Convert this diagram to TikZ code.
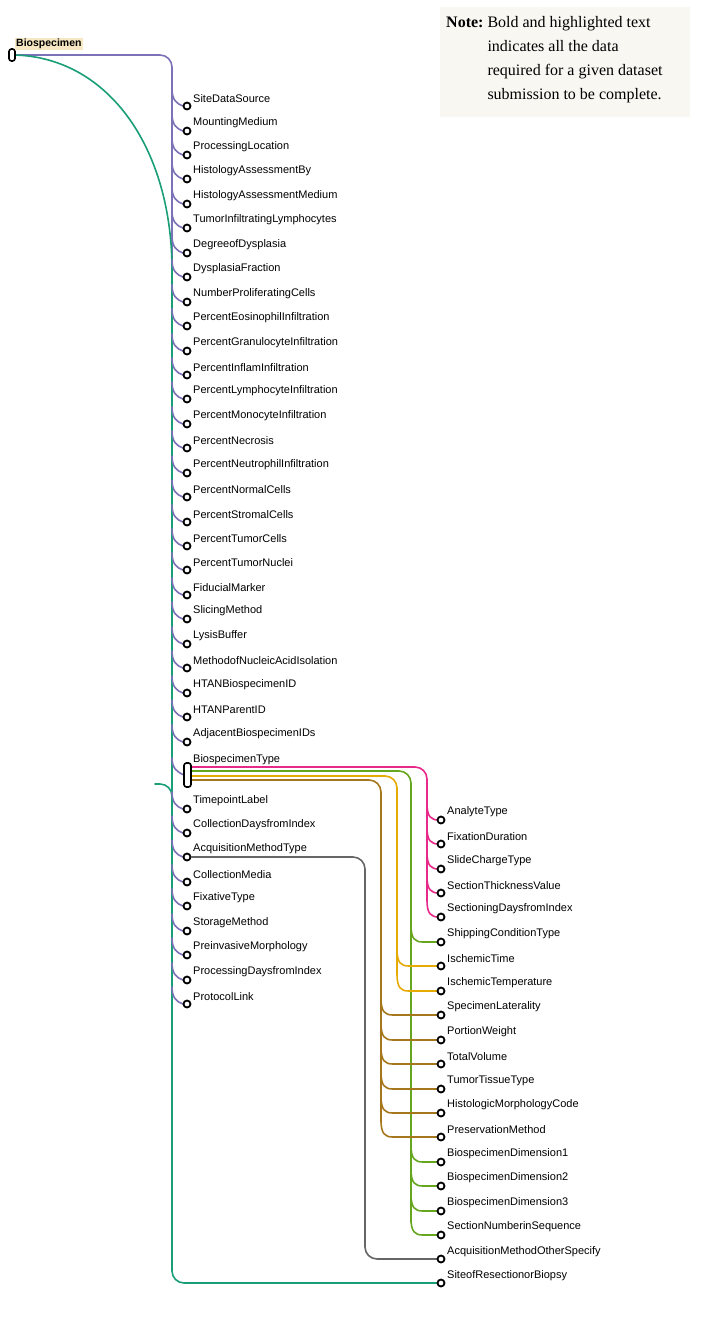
\documentclass[tikz,border=0pt]{standalone}
\usepackage{fontspec}
\setmainfont{Liberation Sans}
\newfontfamily\notefont{Liberation Serif}
\definecolor{cpur}{HTML}{7B72B8}
\definecolor{cteal}{HTML}{1A9E77}
\definecolor{cpink}{HTML}{E7298A}
\definecolor{cgreen}{HTML}{66A61E}
\definecolor{cyel}{HTML}{E6AB02}
\definecolor{cbrown}{HTML}{A6761D}
\definecolor{cgrey}{HTML}{666666}
\definecolor{notebg}{HTML}{F8F7F2}
\definecolor{hl}{HTML}{F5E8C2}
\begin{document}
\begin{tikzpicture}[x=1pt,y=-1pt,
  leaf/.style={circle,draw=black,fill=white,line width=1.8pt,inner sep=0pt,minimum size=7pt},
  lbl/.style={anchor=south west,inner sep=0pt,font=\fontsize{11}{12}\selectfont},
  wire/.style={line width=1.6pt,line cap=round}]
\useasboundingbox (0,0) rectangle (722,1318);
% note
\node[fill=notebg,minimum width=250pt,minimum height=110pt,anchor=north west,inner sep=0pt] (notebox) at (440,7) {};
\node[anchor=north west,inner sep=0pt,align=left,font=\notefont\fontsize{16}{24}\selectfont] (note) at (446,16)
 {\textbf{Note:}\ Bold and highlighted text\\\hphantom{\textbf{Note:}\ }indicates all the data\\\hphantom{\textbf{Note:}\ }required for a given dataset\\\hphantom{\textbf{Note:}\ }submission to be complete.};
% root
\coordinate (rootr) at (15,55);
\draw[wire,cpur] (rootr) -- (160,55) arc[start angle=-90,end angle=0,radius=12] -- (172,990);
\draw[wire,cteal] (rootr) .. controls (110,58) and (172,150) .. (172,270) -- (172,1271) arc[start angle=180,end angle=90,radius=12] coordinate (tl) -- (437,1283);
\draw[wire,cteal] (155,784) -- (160,784) arc[start angle=-90,end angle=0,radius=12];
\node[draw=black,fill=white,line width=1.6pt,rounded corners=2.5pt,minimum width=6pt,minimum height=12pt,inner sep=0pt] (root) at (12,55) {};
\node[anchor=south west,inner sep=1pt,fill=hl,font=\bfseries\fontsize{10.5}{12}\selectfont] (rootlbl) at (15,50) {Biospecimen};
% left leaves
\foreach \y/\t [count=\i] in {98/SiteDataSource,123/MountingMedium,147/ProcessingLocation,171/HistologyAssessmentBy,196/HistologyAssessmentMedium,220/TumorInfiltratingLymphocytes,245/DegreeofDysplasia,269/DysplasiaFraction,294/NumberProliferatingCells,318/PercentEosinophilInfiltration,343/PercentGranulocyteInfiltration,367/PercentInflamInfiltration,391/PercentLymphocyteInfiltration,416/PercentMonocyteInfiltration,440/PercentNecrosis,465/PercentNeutrophilInfiltration,489/PercentNormalCells,514/PercentStromalCells,538/PercentTumorCells,562/PercentTumorNuclei,587/FiducialMarker,611/SlicingMethod,636/LysisBuffer,660/MethodofNucleicAcidIsolation,685/HTANBiospecimenID,709/HTANParentID,734/AdjacentBiospecimenIDs,801/TimepointLabel,825/CollectionDaysfromIndex,849/AcquisitionMethodType,874/CollectionMedia,898/FixativeType,923/StorageMethod,947/PreinvasiveMorphology,972/ProcessingDaysfromIndex,996/ProtocolLink}{
  \pgfmathsetmacro\yc{\y+8}
  \draw[wire,cpur] (172,\yc-17) .. controls (172,\yc-6) and (177,\yc-2) .. (183,\yc);
  \node[leaf] (L\i) at (187,\yc) {};
  \node[lbl] (LT\i) at (193,\y+5) {\t};
}
% biospecimen type
\draw[wire,cpur] (172,758) .. controls (172,768) and (177,772) .. (184,775);
\draw[wire,cpink] (191,767) -- (415,767) arc[start angle=-90,end angle=0,radius=12] -- (427,901);
\draw[wire,cgreen] (191,771) -- (399,771) arc[start angle=-90,end angle=0,radius=12] -- (411,1222);
\draw[wire,cyel] (191,776) -- (385,776) arc[start angle=-90,end angle=0,radius=12] -- (397,975);
\draw[wire,cbrown] (191,780) -- (369,780) arc[start angle=-90,end angle=0,radius=12] -- (381,1122);
\draw[wire,cgrey] (L30) -- (353,857) arc[start angle=-90,end angle=0,radius=12] -- (365,1247) arc[start angle=180,end angle=90,radius=12] -- (437,1259);
\node[draw=black,fill=white,line width=1.6pt,rounded corners=2.5pt,minimum width=7pt,minimum height=24pt,inner sep=0pt] (btype) at (187.5,775) {};
\node[lbl] (btl) at (193,765) {BiospecimenType};
% right leaves
\foreach \y/\t/\c/\tx [count=\i] in {812/AnalyteType/cpink/427,836/FixationDuration/cpink/427,861/SlideChargeType/cpink/427,885/SectionThicknessValue/cpink/427,909/SectioningDaysfromIndex/cpink/427,934/ShippingConditionType/cgreen/411,958/IschemicTime/cyel/397,983/IschemicTemperature/cyel/397,1007/SpecimenLaterality/cbrown/381,1032/PortionWeight/cbrown/381,1056/TotalVolume/cbrown/381,1081/TumorTissueType/cbrown/381,1105/HistologicMorphologyCode/cbrown/381,1129/PreservationMethod/cbrown/381,1154/BiospecimenDimension1/cgreen/411,1178/BiospecimenDimension2/cgreen/411,1203/BiospecimenDimension3/cgreen/411,1227/SectionNumberinSequence/cgreen/411}{
  \pgfmathsetmacro\yc{\y+8}
  \draw[wire,\c] (\tx,\yc-17) .. controls (\tx,\yc-3) and (\tx+4,\yc) .. (\tx+12,\yc) -- (437,\yc);
  \node[leaf] (R\i) at (441,\yc) {};
  \node[lbl] (RT\i) at (447,\y+5) {\t};
}
\node[leaf] (Rg) at (441,1259) {};
\node[lbl] (Rgt) at (447,1257) {AcquisitionMethodOtherSpecify};
\node[leaf] (Rs) at (441,1283) {};
\node[lbl] (Rst) at (447,1281) {SiteofResectionorBiopsy};
\end{tikzpicture}
\end{document}
